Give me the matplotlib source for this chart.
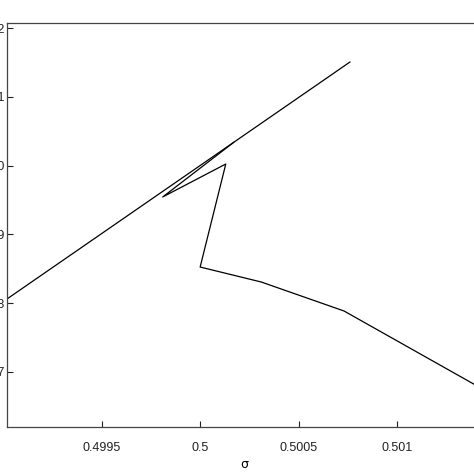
import numpy as np
import matplotlib.pyplot as plt

plt.rcParams['font.family'] = ['Liberation Sans', 'DejaVu Sans']

# upper branch (straight line)
main_sigma = [0.49902, 0.50076]
main_val = [0.08059, 0.11509]

# lower branch with the fold
fold_sigma = [0.50017, 0.49981, 0.50013, 0.50000, 0.50031, 0.50073, 0.50146]
fold_val = [0.10339, 0.09544, 0.10024, 0.08524, 0.08306, 0.07884, 0.06704]

xticks = [0.4995, 0.5, 0.5005, 0.501]
xtick_labels = ['0.4995', '0.5', '0.5005', '0.501']
yticks = [0.07, 0.08, 0.09, 0.10, 0.11, 0.12]
ytick_labels = ['0.07', '0.08', '0.09', '0.10', '0.11', '0.12']

fig = plt.figure(figsize=(4.74, 4.74), dpi=100)
# the picture is cropped: axes start near the left edge and run past the right one
ax = fig.add_axes([7/474, 47/474, 475/474, 404/474])

ax.plot(main_sigma, main_val, color='black', lw=0.9)
ax.plot(fold_sigma, fold_val, color='black', lw=0.9)

ax.set_xlim(0.49902, 0.50143)
ax.set_ylim(0.06195, 0.12077)
ax.set_xticks(xticks)
ax.set_xticklabels(xtick_labels)
ax.set_yticks(yticks)
ax.set_yticklabels(ytick_labels)
ax.tick_params(direction='in', length=4, width=0.8, labelsize=9, colors='#222222')
ax.tick_params(axis='x', pad=11)
ax.tick_params(axis='y', pad=1.5)
for s in ax.spines.values():
    s.set_color('#444444')
    s.set_linewidth(0.9)
ax.spines['right'].set_visible(False)
ax.set_xlabel('σ', fontsize=9, labelpad=3, family=['DejaVu Sans'])

fig.savefig('out.png', dpi=100)
